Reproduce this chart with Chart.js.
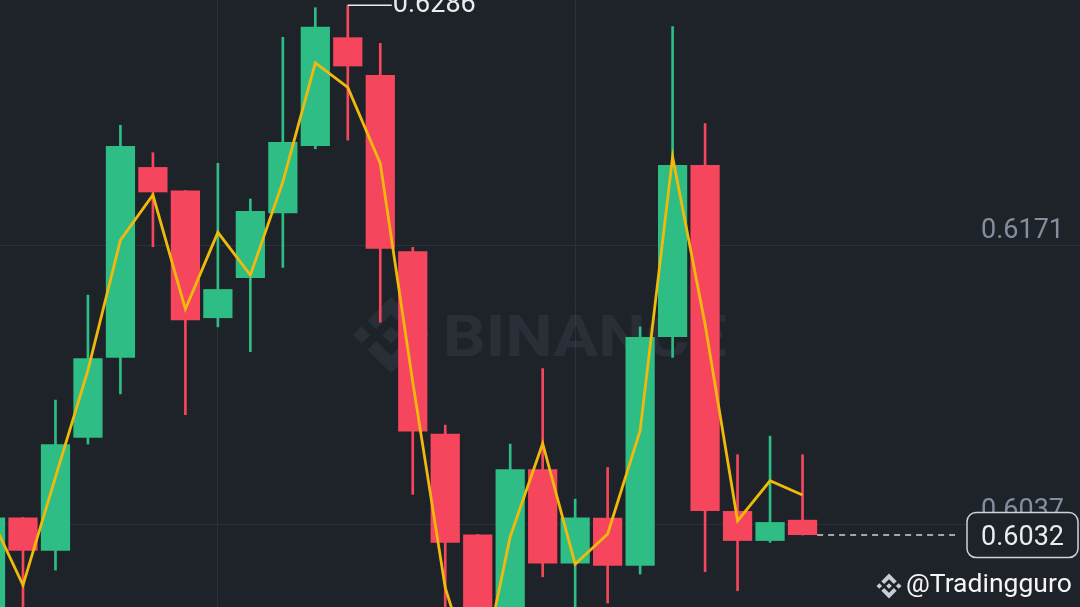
<!DOCTYPE html>
<html>
<head>
<meta charset="utf-8">
<style>
  html, body { margin: 0; padding: 0; background: #1E2329; overflow: hidden; }
  #chart { display: block; }
</style>
</head>
<body>
<canvas id="chart" width="1080" height="607"></canvas>
<script src="https://cdn.jsdelivr.net/npm/chart.js@4.4.1/dist/chart.umd.min.js"></script>
<script>
'use strict';

// candle slots, 0 is cut off by the left edge
const slots  = [0, 1, 2, 3, 4, 5, 6, 7, 8, 9, 10, 11, 12, 13, 14, 15, 16, 17, 18, 19, 20, 21, 22, 23, 24, 25];
const opens  = [0.59900, 0.60404, 0.60245, 0.60786, 0.61170, 0.62084, 0.61972, 0.61360, 0.61552, 0.61863, 0.62185, 0.62706, 0.62525,
                0.61681, 0.60805, 0.60323, 0.59900, 0.60635, 0.60184, 0.60403, 0.60173, 0.61269, 0.62094, 0.60435, 0.60292, 0.60393];
const highs  = [0.60404, 0.60404, 0.60967, 0.61470, 0.62284, 0.62153, 0.61972, 0.62102, 0.61931, 0.62706, 0.62848, 0.62860, 0.62677,
                0.61699, 0.60847, 0.60323, 0.60756, 0.61118, 0.60492, 0.60644, 0.61318, 0.62757, 0.62293, 0.60705, 0.60794, 0.60705];
const lows   = [0.59850, 0.59880, 0.60152, 0.60756, 0.60997, 0.61702, 0.60897, 0.61318, 0.61199, 0.61603, 0.62172, 0.62213, 0.61341,
                0.60515, 0.59850, 0.59800, 0.59800, 0.60120, 0.59850, 0.59994, 0.60133, 0.61172, 0.60144, 0.60053, 0.60285, 0.60320];
const closes = [0.60404, 0.60245, 0.60755, 0.61167, 0.62185, 0.61963, 0.61350, 0.61499, 0.61873, 0.62204, 0.62757, 0.62567, 0.61692,
                0.60816, 0.60283, 0.59900, 0.60635, 0.60184, 0.60404, 0.60173, 0.61269, 0.62094, 0.60435, 0.60292, 0.60382, 0.60320];
// yellow average line
const maLine = [0.60411, 0.60080, 0.60598, 0.61111, 0.61734, 0.61950, 0.61403, 0.61771, 0.61566, 0.62013, 0.62584, 0.62466, 0.62102,
                0.61053, 0.60068, 0.59567, 0.60312, 0.60759, 0.60181, 0.60325, 0.60820, 0.62133, 0.61331, 0.60388, 0.60580, 0.60512];

const priceTicks = [0.6171, 0.6037];
const timeGrid = [7, 18];
const lastPrice = 0.6032;
const yMin = 0.59975, yMax = 0.62885;
const xMin = 0.292, xMax = 33.543;

const UP = '#2EBD85', DOWN = '#F6465D', GOLD = '#F0B90B';
const GRID = '#2B3139', MUTED = '#848E9C', LIGHT = '#EAECEF', BG = '#1E2329';

let canvasElem = document.getElementById('chart');

// binance mark, 126.6 units square
const logoPaths = [
  'M38.73 53.2l24.59-24.58 24.6 24.6 14.3-14.31L63.32 0 24.43 38.9l14.3 14.3z',
  'M0 63.31l14.3-14.31 14.31 14.31-14.31 14.3z',
  'M38.73 73.41l24.59 24.59 24.6-24.6 14.31 14.29-38.9 38.91-38.91-38.88-.02-.02z',
  'M98 63.31l14.3-14.31 14.31 14.3-14.31 14.32z',
  'M77.83 63.3L63.32 48.78 52.59 59.51l-1.24 1.23-2.54 2.54 14.51 14.5 14.51-14.52z'
].map(d => new Path2D(d));

function drawLogo(ctx, cx, cy, size, color) {
  ctx.save();
  ctx.translate(cx - size / 2, cy - size / 2);
  ctx.scale(size / 126.61, size / 126.61);
  ctx.fillStyle = color;
  logoPaths.forEach(p => ctx.fill(p));
  ctx.restore();
}

const overlay = {
  id: 'overlay',
  beforeDatasetsDraw(chart) {
    let ctx = chart.ctx;
    ctx.save();
    let wm = 'rgba(132, 142, 156, 0.12)';
    drawLogo(ctx, 391, 335, 76, wm);
    ctx.font = 'bold 58px Roboto';
    ctx.fillStyle = wm;
    ctx.textBaseline = 'alphabetic';
    let w = ctx.measureText('BINANCE').width;
    ctx.translate(443, 356);
    ctx.scale(284 / w, 1);
    ctx.fillText('BINANCE', 0, 0);
    ctx.restore();
  },
  afterDatasetsDraw(chart) {
    let ctx = chart.ctx;
    let xs = chart.scales.x, ys = chart.scales.y;
    ctx.save();
    ctx.font = '27px Roboto';
    ctx.textBaseline = 'alphabetic';

    // price labels above the grid lines
    ctx.fillStyle = MUTED;
    ctx.textAlign = 'right';
    priceTicks.forEach(v => {
      ctx.fillText(v.toFixed(4), 1064, ys.getPixelForValue(v) - 7);
    });

    // highest high marker
    let top = Math.max(...highs);
    let ti = highs.indexOf(top);
    let hx = xs.getPixelForValue(slots[ti]);
    let hy = ys.getPixelForValue(top);
    ctx.strokeStyle = LIGHT;
    ctx.lineWidth = 1.5;
    ctx.beginPath();
    ctx.moveTo(hx, hy);
    ctx.lineTo(hx + 44, hy);
    ctx.stroke();
    ctx.fillStyle = LIGHT;
    ctx.textAlign = 'left';
    ctx.fillText(top.toFixed(4), hx + 45, hy + 7);

    // last price line and box
    let py = ys.getPixelForValue(lastPrice);
    let lx = xs.getPixelForValue(slots[slots.length - 1]) + 14.6;
    ctx.strokeStyle = '#D0D3D8';
    ctx.lineWidth = 1.5;
    ctx.setLineDash([6, 5]);
    ctx.beginPath();
    ctx.moveTo(lx, py);
    ctx.lineTo(955, py);
    ctx.stroke();
    ctx.setLineDash([]);
    ctx.fillStyle = BG;
    ctx.beginPath();
    ctx.roundRect(967, py - 22.5, 111, 45, 9);
    ctx.fill();
    ctx.stroke();
    ctx.fillStyle = LIGHT;
    ctx.textAlign = 'right';
    ctx.fillText(lastPrice.toFixed(4), 1064, py + 10);

    // credit
    drawLogo(ctx, 889, 586, 25, '#C9CDD3');
    ctx.font = '26.5px Roboto';
    ctx.fillStyle = '#F5F5F5';
    ctx.textAlign = 'left';
    ctx.fillText('@Tradingguro', 906, 592);
    ctx.restore();
  }
};

function renderChart() {
    let data = {
        datasets: [
            {
              type: 'line',
              label: 'MA',
              data: slots.map((s, i) => ({ x: s, y: maLine[i] })),
              borderColor: GOLD,
              borderWidth: 2.8,
              pointRadius: 0,
              tension: 0
            },
            {
              type: 'bar',
              label: 'Body',
              data: slots.map((s, i) => ({ x: s, y: [opens[i], closes[i]] })),
              backgroundColor: slots.map((s, i) => closes[i] >= opens[i] ? UP : DOWN),
              borderWidth: 0,
              grouped: false,
              categoryPercentage: 1,
              barPercentage: 0.9
            },
            {
              type: 'bar',
              label: 'Wick',
              data: slots.map((s, i) => ({ x: s, y: [lows[i], highs[i]] })),
              backgroundColor: slots.map((s, i) => closes[i] >= opens[i] ? UP : DOWN),
              borderWidth: 0,
              grouped: false,
              categoryPercentage: 1,
              barPercentage: 1,
              maxBarThickness: 2
            }
        ]
    };
    let options = {
        responsive: false,
        animation: false,
        devicePixelRatio: 1,
        layout: { padding: 0 },
        plugins: {
            legend: { display: false },
            tooltip: { enabled: false }
        },
        scales: {
            x: {
                type: 'linear',
                min: xMin,
                max: xMax,
                offset: false,
                afterBuildTicks: scale => { scale.ticks = timeGrid.map(v => ({ value: v })); },
                grid: { color: GRID, lineWidth: 1, drawTicks: false, offset: false },
                border: { display: false },
                ticks: { display: false }
            },
            y: {
                position: 'right',
                min: yMin,
                max: yMax,
                afterBuildTicks: scale => { scale.ticks = priceTicks.map(v => ({ value: v })); },
                grid: { color: GRID, lineWidth: 1, drawTicks: false },
                border: { display: false },
                ticks: { display: false }
            }
        }
    };

    let ctx = canvasElem.getContext('2d');
    new Chart(ctx, {
        type: 'bar',
        data: data,
        options: options,
        plugins: [overlay]
    });
}

renderChart();
</script>
</body>
</html>
